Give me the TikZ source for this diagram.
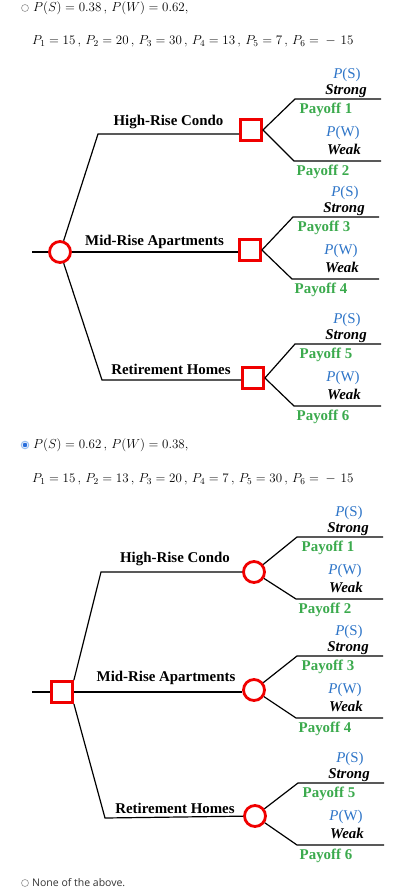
\documentclass[tikz,border=0pt]{standalone}
\usepackage{fix-cm}
\usepackage[no-math]{fontspec}
\newfontfamily\tnr{Liberation Serif}
\newfontfamily\osans{Open Sans}
\usetikzlibrary{calc}
\definecolor{pblue}{RGB}{46,117,200}
\definecolor{pgreen}{RGB}{59,170,77}
\definecolor{dred}{RGB}{240,0,0}
\definecolor{radiogray}{RGB}{150,150,150}
\definecolor{radioblue}{RGB}{40,110,220}
\definecolor{radioring}{RGB}{150,190,240}
\tikzset{
  tl/.style={line width=1.2pt, black},
  lbl/.style={font=\tnr\bfseries\fontsize{14.9}{17}\selectfont, inner sep=0pt},
  pay/.style={lbl, text=pgreen},
  prob/.style={font=\tnr\fontsize{14.9}{17}\selectfont, text=pblue, inner sep=0pt},
  stw/.style={font=\tnr\bfseries\itshape\fontsize{14.9}{17}\selectfont, inner sep=0pt},
  dbox/.style={rectangle, draw=dred, line width=2.8pt, minimum size=21pt, inner sep=0pt},
  chance/.style={circle, draw=dred, line width=2.8pt, minimum size=21pt, inner sep=0pt},
  mathline/.style={anchor=west, inner sep=0pt, font=\fontsize{13}{16}\selectfont},
}
% #1 name, #2 X, #3 Y, #4 top payoff, #5 bottom payoff, #6 upper start, #7 lower start
\newcommand\leafset[7]{%
  \coordinate (#1ua) at (#2,#3-35);
  \coordinate (#1ub) at (#2+86,#3-35);
  \coordinate (#1la) at (#2-1,#3+27);
  \coordinate (#1lb) at (#2+86,#3+27);
  \draw[tl] (#6) -- (#1ua) -- (#1ub);
  \draw[tl] (#7) -- (#1la) -- (#1lb);
  \node[prob] (#1ps) at (#2+52,#3-59) {\itshape P\upshape(S)};
  \node[stw]  (#1st) at (#2+51,#3-43) {Strong};
  \node[pay]  (#1pa) at (#2+31,#3-24) {Payoff #4};
  \node[prob] (#1pw) at (#2+48,#3-1) {\itshape P\upshape(W)};
  \node[stw]  (#1wk) at (#2+49,#3+15) {Weak};
  \node[pay]  (#1pb) at (#2+28,#3+38) {Payoff #5};
}
\begin{document}
\begin{tikzpicture}[x=1pt,y=-1pt]
\useasboundingbox (0,0) rectangle (401,896);
\fill[white] (0,0) rectangle (401,896);

% ---------- option 1 ----------
\node[circle, draw=radiogray, line width=0.6pt, minimum size=7pt, inner sep=0pt] (rad1) at (25,8) {};
\node[mathline] (t1a) at (33,8) {$P(S) = 0.38\,,\,P(W) = 0.62,$};
\node[mathline] (t1b) at (32,41) {$P_1 = 15\,,\,P_2 = 20\,,\,P_3 = 30\,,\,P_4 = 13\,,\,P_5 = 7\,,\,P_6 = {} - \,15$};

\coordinate (r1) at (32,252);
\node[chance] (c1) at (60,252) {};
\node[dbox] (b11) at (251,130) {};
\node[dbox] (b12) at (250,250) {};
\node[dbox] (b13) at (253,378) {};
\coordinate (k11) at (98,134);
\coordinate (k13) at (102,380);
\draw[tl] (r1) -- (c1.west);
\draw[tl] (c1) -- (k11) -- (k11 -| b11.west);
\draw[tl] (c1.east) -- (c1.east -| b12.west);
\draw[tl] (c1) -- (k13) -- (k13 -| b13.west);
\node[lbl] (n11) at (168.5,122) {High-Rise Condo};
\node[lbl] (n12) at (154.5,242) {Mid-Rise Apartments};
\node[lbl] (n13) at (171,369) {Retirement Homes};
\leafset{s11}{295}{134}{1}{2}{b11.east}{b11.east}
\leafset{s12}{293}{252}{3}{4}{b12.east}{b12.east}
\leafset{s13}{295}{379}{5}{6}{b13.east}{b13.east}

% ---------- option 2 ----------
\node[circle, draw=radioring, fill=white, line width=1pt, minimum size=7.5pt, inner sep=0pt] (rad2) at (25,445) {};
\fill[radioblue] (rad2.center) circle (2.3pt);
\node[mathline] (t2a) at (33,445) {$P(S) = 0.62\,,\,P(W) = 0.38,$};
\node[mathline] (t2b) at (32,479) {$P_1 = 15\,,\,P_2 = 13\,,\,P_3 = 20\,,\,P_4 = 7\,,\,P_5 = 30\,,\,P_6 = {} - \,15$};

\coordinate (r2) at (32,692);
\node[dbox] (b2) at (62,692) {};
\node[chance] (c21) at (254,572) {};
\node[chance] (c22) at (254,690) {};
\node[chance] (c23) at (255,816) {};
\coordinate (k21) at (101,572);
\coordinate (k23) at (105,818);
\draw[tl] (r2) -- (b2.west);
\draw[tl] (b2.north east) -- (k21) -- (k21 -| c21.west);
\draw[tl] (b2.east) -- (b2.east -| c22.west);
\draw[tl] (b2.south east) -- (k23) -- (c23);
\node[lbl] (n21) at (175,559) {High-Rise Condo};
\node[lbl] (n22) at (166,678) {Mid-Rise Apartments};
\node[lbl] (n23) at (175,808) {Retirement Homes};
\leafset{s21}{297}{572}{1}{2}{c21}{c21}
\leafset{s22}{297}{691}{3}{4}{c22}{c22}
\leafset{s23}{298}{818}{5}{6}{c23}{c23}

% ---------- option 3 ----------
\node[circle, draw=radiogray, line width=0.6pt, minimum size=7pt, inner sep=0pt] (rad3) at (25,883) {};
\node[anchor=west, inner sep=0pt, font=\osans\fontsize{10.5}{12}\selectfont, text=black!80] (t3) at (32,883) {None of the above.};
\end{tikzpicture}
\end{document}
